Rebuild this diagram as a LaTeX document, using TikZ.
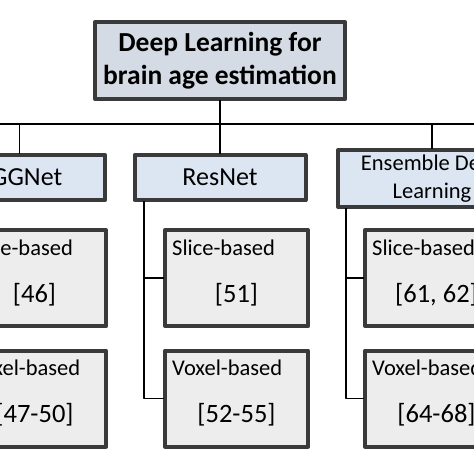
\documentclass[tikz,border=0pt]{standalone}
\usepackage{fontspec}
\setmainfont{Carlito}
\usetikzlibrary{shadows,calc}
\definecolor{boxline}{HTML}{3A3A3A}
\definecolor{rootfill}{HTML}{D5DBE4}
\definecolor{netfill}{HTML}{DCE6F2}
\definecolor{leaffill}{HTML}{EDEDED}
\begin{document}
\begin{tikzpicture}[x=1pt,y=-1pt,line join=round,
  tbox/.style={draw=boxline,line width=4pt,inner sep=0pt,
    drop shadow={shadow xshift=1.5pt,shadow yshift=-1.5pt,opacity=.25}},
  root/.style={tbox,fill=rootfill,minimum width=250,minimum height=77,align=center,
    font=\fontsize{27.5}{33.5}\selectfont\bfseries},
  net/.style={tbox,fill=netfill,minimum width=171,minimum height=45,
    font=\fontsize{26}{30}\selectfont},
  leaf/.style={tbox,fill=leaffill,minimum width=143,minimum height=96},
  leaftitle/.style={anchor=base west,inner sep=0pt,font=\fontsize{22.5}{27}\selectfont},
  cite/.style={anchor=base,inner sep=0pt,font=\fontsize{26.5}{30}\selectfont},
  link/.style={line width=1.8pt,line cap=rect}]
  \path[use as bounding box,clip] (0,0) rectangle (474,474);
  \coordinate (busL) at (-20,124);
  \coordinate (busR) at (494,124);
  \node[root] (root) at (220,60.5) {Deep Learning for\\brain age estimation};
  \node[net] (vgg) at (19.5,177.5) {VGGNet};
  \node[net] (res) at (220,177.5) {ResNet};
  \node[net,minimum width=188,minimum height=57,align=center,
    font=\fontsize{22.5}{27.5}\selectfont] (ens) at (432,178.5) {Ensemble Deep\\Learning};
  \draw[link] (busL) -- (busR);
  \foreach \p in {root} \draw[link] (\p.south) -- (\p.south |- busL);
  \foreach \p in {vgg,res,ens} \draw[link] (\p.north) -- (\p.north |- busL);
  \foreach \p/\cx/\lx/\cs/\cv in {vgg/34.5/-58/{[46]}/{[47-50]},
      res/236.5/144/{[51]}/{[52-55]},ens/436.5/346/{[61, 62]}/{[64-68]}} {
    \coordinate (\p-l) at (\lx,0);
    \node[leaf] (\p-s) at (\cx,278) {};
    \node[leaf] (\p-v) at (\cx,398.5) {};
    \draw[link] (\p.south -| \p-l) |- (\p-v.west);
    \draw[link] (\p-s.west -| \p-l) -- (\p-s.west);
    \node[leaftitle] (\p-st) at ($(\p-s.north west)+(9,27)$) {Slice-based};
    \node[cite] (\p-sc) at ($(\p-s.north)+(0,74)$) {\cs};
    \node[leaftitle] (\p-vt) at ($(\p-v.north west)+(9,27)$) {Voxel-based};
    \node[cite] (\p-vc) at ($(\p-v.north)+(0,74)$) {\cv};
  }
\end{tikzpicture}
\end{document}
